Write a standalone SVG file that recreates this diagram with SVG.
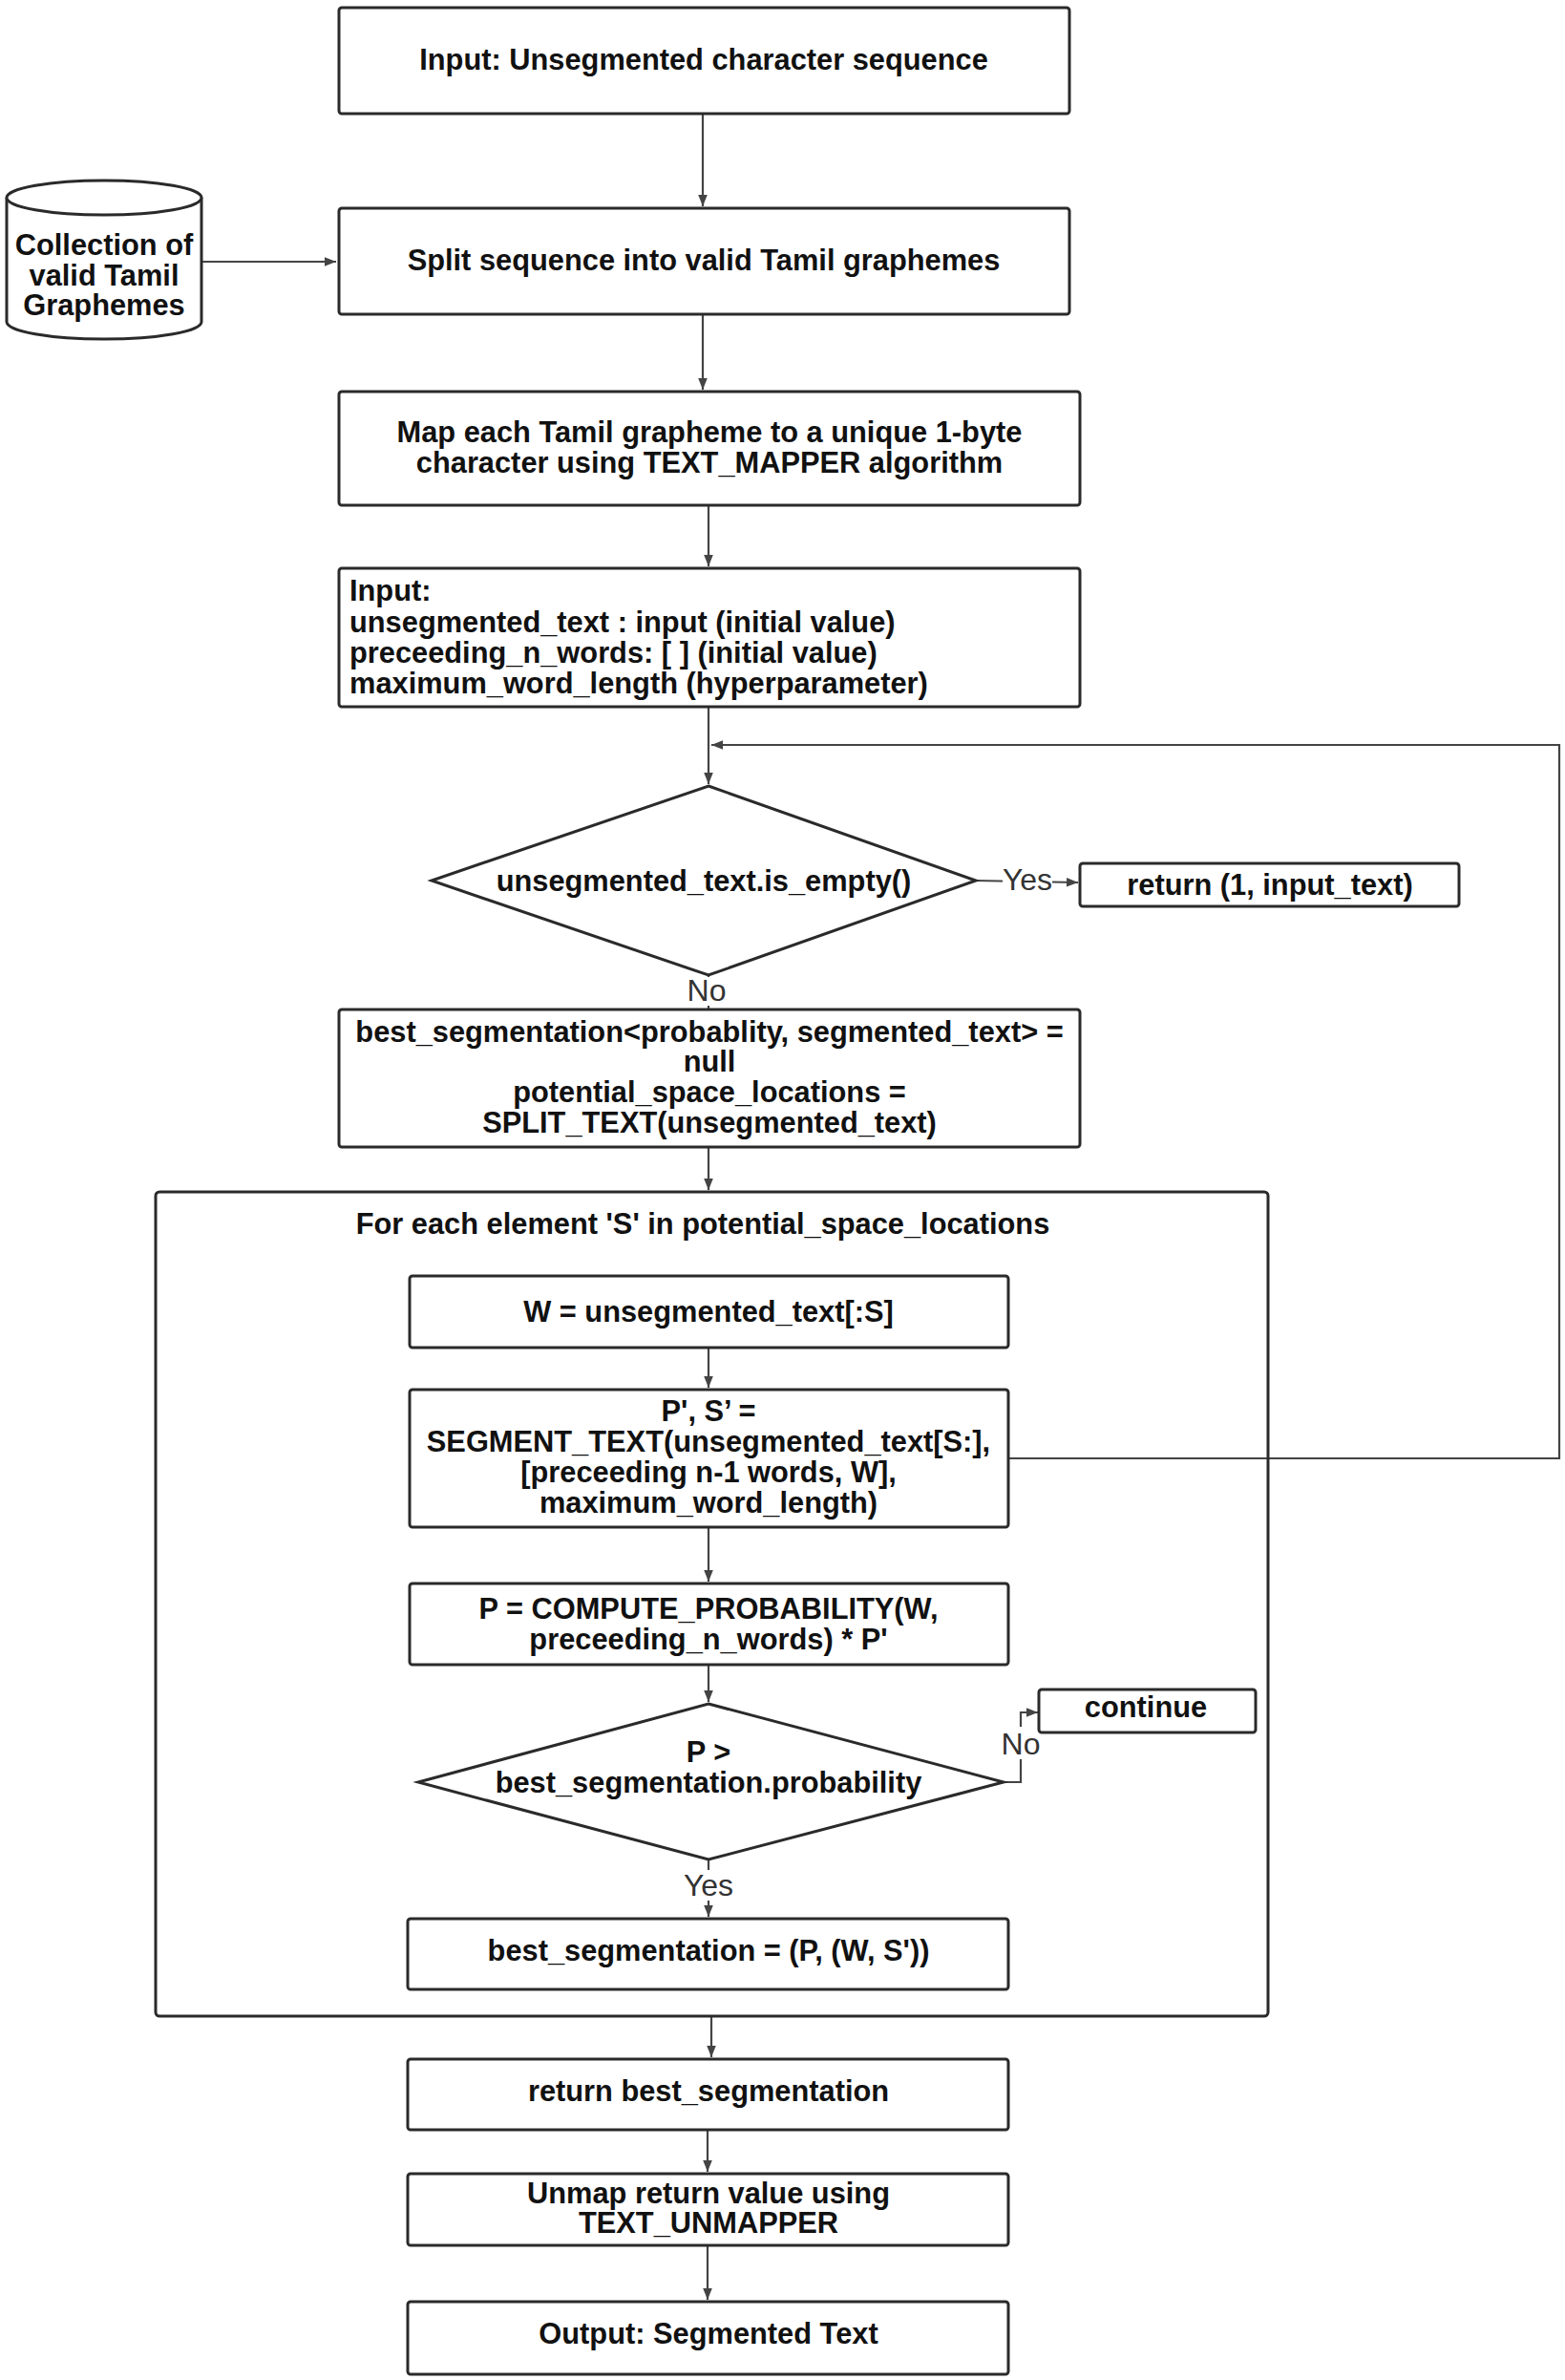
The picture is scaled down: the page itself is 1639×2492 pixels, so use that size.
<svg xmlns="http://www.w3.org/2000/svg" width="1639" height="2492" viewBox="0 0 1639 2492">
<defs>
<style>
.box{fill:#fff;stroke:#2a2a2a;stroke-width:3}
.t{font-family:"Liberation Sans",Arial,sans-serif;font-weight:bold;font-size:30.8px;fill:#111;text-anchor:middle;dominant-baseline:central}
.tl{text-anchor:start}
.lbl{font-family:"Liberation Sans",Arial,sans-serif;font-size:32px;fill:#333;text-anchor:middle;dominant-baseline:central}
.c{fill:none;stroke:#444;stroke-width:2.2}
</style>
<marker id="ahs" viewBox="0 0 10 10" refX="10" refY="5" markerWidth="12" markerHeight="12" markerUnits="userSpaceOnUse" orient="auto"><path d="M0,1 L10,5 L0,9 z" fill="#444"/></marker>
</defs>
<rect width="1639" height="2492" fill="#fff"/>

<g id="connectors">
<line class="c" x1="736" y1="119" x2="736" y2="216" marker-end="url(#ahs)"/>
<line class="c" x1="211" y1="274" x2="352" y2="274" stroke-width="3.5" marker-end="url(#ahs)"/>
<line class="c" x1="736" y1="329" x2="736" y2="408" marker-end="url(#ahs)"/>
<line class="c" x1="742" y1="529" x2="742" y2="593" marker-end="url(#ahs)"/>
<line class="c" x1="742" y1="740" x2="742" y2="821" marker-end="url(#ahs)"/>
<polyline class="c" points="1056,1527 1633,1527 1633,780 745,780" marker-end="url(#ahs)"/>
<line class="c" x1="1020" y1="922" x2="1129" y2="924" marker-end="url(#ahs)"/>
<line class="c" x1="742" y1="1021" x2="742" y2="1056"/>
<line class="c" x1="742" y1="1201" x2="742" y2="1246" marker-end="url(#ahs)"/>
<line class="c" x1="742" y1="1411" x2="742" y2="1453" marker-end="url(#ahs)"/>
<line class="c" x1="742" y1="1599" x2="742" y2="1656" marker-end="url(#ahs)"/>
<line class="c" x1="742" y1="1743" x2="742" y2="1782" marker-end="url(#ahs)"/>
<polyline class="c" points="1051,1866 1069,1866 1069,1793 1087,1793" marker-end="url(#ahs)"/>
<line class="c" x1="742" y1="1947" x2="742" y2="2007" marker-end="url(#ahs)"/>
<line class="c" x1="745" y1="2111" x2="745" y2="2154" marker-end="url(#ahs)"/>
<line class="c" x1="741" y1="2230" x2="741" y2="2274" marker-end="url(#ahs)"/>
<line class="c" x1="741" y1="2351" x2="741" y2="2408" marker-end="url(#ahs)"/>
<rect x="1050" y="905" width="52" height="32" fill="#fff"/>
<text class="lbl" x="1076" y="921" fill="#555">Yes</text>
<rect x="722" y="1023" width="38" height="30" fill="#fff"/>
<text class="lbl" x="740" y="1037" fill="#222">No</text>
<rect x="1051" y="1808" width="36" height="34" fill="#fff"/>
<text class="lbl" x="1069" y="1826">No</text>
<rect x="715" y="1958" width="54" height="32" fill="#fff"/>
<text class="lbl" x="742" y="1974">Yes</text>
</g>

<g id="n-input">
<rect class="box" x="355" y="8" width="765" height="111" rx="3"/>
<text class="t" x="737" y="62">Input: Unsegmented character sequence</text>
</g>

<g id="n-collection">
<path class="box" d="M7,207 L7,337 A102,18 0 0 0 211,337 L211,207"/>
<ellipse class="box" cx="109" cy="207" rx="102" ry="18"/>
<text class="t" x="109" y="256">Collection of</text>
<text class="t" x="109" y="288">valid Tamil</text>
<text class="t" x="109" y="319">Graphemes</text>
</g>

<g id="n-split">
<rect class="box" x="355" y="218" width="765" height="111" rx="3"/>
<text class="t" x="737" y="272">Split sequence into valid Tamil graphemes</text>
</g>

<g id="n-map">
<rect class="box" x="355" y="410" width="776" height="119" rx="3"/>
<text class="t" x="743" y="452">Map each Tamil grapheme to a unique 1-byte</text>
<text class="t" x="743" y="484">character using TEXT_MAPPER algorithm</text>
</g>

<g id="n-params">
<rect class="box" x="355" y="595" width="776" height="145" rx="3"/>
<text class="t tl" x="366" y="618">Input:</text>
<text class="t tl" x="366" y="651">unsegmented_text : input (initial value)</text>
<text class="t tl" x="366" y="683">preceeding_n_words: [ ] (initial value)</text>
<text class="t tl" x="366" y="715">maximum_word_length (hyperparameter)</text>
</g>

<g id="n-empty">
<polygon class="box" points="742,823 1022,922 742,1021 452,922"/>
<text class="t" x="737" y="922">unsegmented_text.is_empty()</text>
</g>

<g id="n-return1">
<rect class="box" x="1131" y="904" width="397" height="45" rx="3"/>
<text class="t" x="1330" y="926">return (1, input_text)</text>
</g>

<g id="n-init">
<rect class="box" x="355" y="1057" width="776" height="144" rx="3"/>
<text class="t" x="743" y="1080">best_segmentation&lt;probablity, segmented_text&gt; =</text>
<text class="t" x="743" y="1111">null</text>
<text class="t" x="743" y="1143">potential_space_locations =</text>
<text class="t" x="743" y="1175">SPLIT_TEXT(unsegmented_text)</text>
</g>

<g id="n-loop">
<rect x="163" y="1248" width="1165" height="863" rx="4" fill="none" stroke="#2a2a2a" stroke-width="3"/>
<text class="t" x="736" y="1281">For each element 'S' in potential_space_locations</text>
</g>

<g id="n-w">
<rect class="box" x="429" y="1336" width="627" height="75" rx="3"/>
<text class="t" x="742" y="1373">W = unsegmented_text[:S]</text>
</g>

<g id="n-segment">
<rect class="box" x="429" y="1455" width="627" height="144" rx="3"/>
<text class="t" x="742" y="1477">P', S’ =</text>
<text class="t" x="742" y="1509">SEGMENT_TEXT(unsegmented_text[S:],</text>
<text class="t" x="742" y="1541">[preceeding n-1 words, W],</text>
<text class="t" x="742" y="1573">maximum_word_length)</text>
</g>

<g id="n-prob">
<rect class="box" x="429" y="1658" width="627" height="85" rx="3"/>
<text class="t" x="742" y="1684">P = COMPUTE_PROBABILITY(W,</text>
<text class="t" x="742" y="1716">preceeding_n_words) * P'</text>
</g>

<g id="n-compare">
<polygon class="box" points="742,1784 1051,1866 742,1947 438,1866" stroke-width="2.5"/>
<text class="t" x="742" y="1834">P &gt;</text>
<text class="t" x="742" y="1866">best_segmentation.probability</text>
</g>

<g id="n-continue">
<rect class="box" x="1088" y="1769" width="227" height="45" rx="3"/>
<text class="t" x="1200" y="1787">continue</text>
</g>

<g id="n-best">
<rect class="box" x="427" y="2009" width="629" height="74" rx="3" stroke="#555"/>
<text class="t" x="742" y="2042">best_segmentation = (P, (W, S'))</text>
</g>

<g id="n-return2">
<rect class="box" x="427" y="2156" width="629" height="74" rx="3" stroke="#555"/>
<text class="t" x="742" y="2189">return best_segmentation</text>
</g>

<g id="n-unmap">
<rect class="box" x="427" y="2276" width="629" height="75" rx="3" stroke="#555"/>
<text class="t" x="742" y="2296">Unmap return value using</text>
<text class="t" x="742" y="2327">TEXT_UNMAPPER</text>
</g>

<g id="n-output">
<rect class="box" x="427" y="2410" width="629" height="76" rx="3" stroke="#555"/>
<text class="t" x="742" y="2443">Output: Segmented Text</text>
</g>
</svg>
